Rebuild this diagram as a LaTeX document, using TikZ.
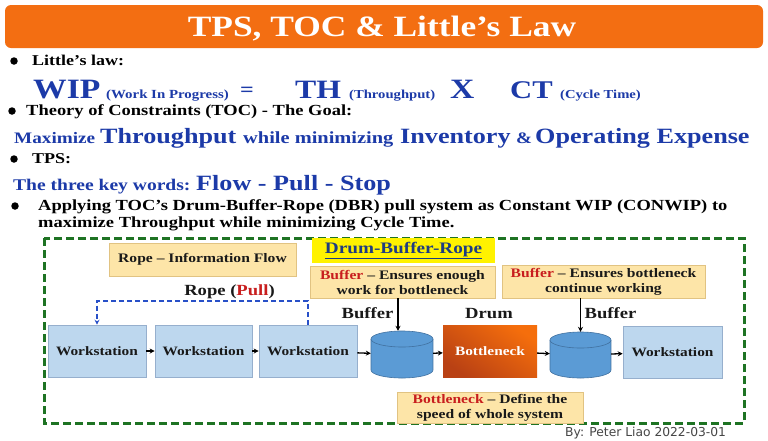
\documentclass[tikz,border=0pt]{standalone}
\usepackage{fontspec}
\setmainfont{Liberation Serif}[FakeStretch=1.2]
\newfontfamily\byfont{DejaVu Sans}
\usetikzlibrary{arrows.meta}
\definecolor{titleorange}{RGB}{243,110,18}
\definecolor{txtblue}{RGB}{28,58,168}
\definecolor{dbrblue}{RGB}{30,60,130}
\definecolor{frgreen}{RGB}{30,115,35}
\definecolor{tanfill}{RGB}{253,229,168}
\definecolor{tandraw}{RGB}{225,195,130}
\definecolor{wsfill}{RGB}{189,215,238}
\definecolor{wsdraw}{RGB}{150,175,205}
\definecolor{cylfill}{RGB}{91,155,213}
\definecolor{cyldraw}{RGB}{65,113,160}
\definecolor{bnlight}{RGB}{245,110,12}
\definecolor{bndark}{RGB}{185,65,20}
\definecolor{kwred}{RGB}{200,30,30}
\definecolor{ropeblue}{RGB}{40,80,200}
\definecolor{bygray}{RGB}{70,70,70}
\definecolor{txtdark}{RGB}{25,25,25}
\newcommand{\fsz}[1]{\fontsize{#1}{#1}\selectfont}
\begin{document}
\begin{tikzpicture}[x=1pt,y=-1pt,
  txt/.style={anchor=base west,inner sep=0pt,font=\bfseries},
  bluetxt/.style={txt,text=txtblue},
  note/.style={draw=tandraw,fill=tanfill,line width=0.6pt,inner sep=0pt,align=center,
    font=\bfseries\fontsize{13}{15}\selectfont,text=txtdark},
  wsbox/.style={draw=wsdraw,fill=wsfill,line width=0.6pt,minimum width=98pt,minimum height=52pt,
    inner sep=0pt,font=\bfseries\fontsize{12.8}{15}\selectfont,text=txtdark},
  cylbox/.style={inner sep=0pt},
  lbl/.style={anchor=base,inner sep=0pt,font=\bfseries\fontsize{15.5}{18}\selectfont,text=txtdark},
  conn/.style={-{Stealth[length=5pt,width=5pt]},line width=1.3pt,black},
  rope/.style={-{Stealth[length=5pt,width=5pt]},line width=1.7pt,ropeblue,dash pattern=on 5pt off 3pt},
  bullet/.style={circle,fill=black,inner sep=0pt,minimum size=7.5pt}]
\useasboundingbox (0,0) rectangle (768,440);
\fill[white] (0,0) rectangle (768,440);

% title
\fill[titleorange,rounded corners=6pt] (5,5) rectangle (763,48);
\node[anchor=base,inner sep=0pt,text=white,font=\bfseries\fsz{29.5}] (title) at (382,36) {TPS, TOC \& Little’s Law};

% Little's law
\node[bullet] (b1) at (14,61) {};
\node[txt,font=\bfseries\fsz{15}] (l1) at (32,65) {Little’s law:};
\node[bluetxt,font=\bfseries\fsz{28}] (wip) at (33,98) {WIP};
\node[bluetxt,font=\bfseries\fsz{12.4}] (wipd) at (106,98) {(Work In Progress)};
\node[bluetxt,font=\bfseries\fsz{20}] (eq) at (240,96) {=};
\node[bluetxt,font=\bfseries\fsz{26.5}] (th) at (295,98) {TH};
\node[bluetxt,font=\bfseries\fsz{12.2}] (thd) at (349,98) {(Throughput)};
\node[bluetxt,font=\bfseries\fsz{28}] (xx) at (450,98) {X};
\node[bluetxt,font=\bfseries\fsz{25.5}] (ct) at (510,98) {CT};
\node[bluetxt,font=\bfseries\fsz{12.2}] (ctd) at (560,98) {(Cycle Time)};

% TOC
\node[bullet] (b2) at (12,111) {};
\node[txt,font=\bfseries\fsz{15.4}] (l2) at (26,115) {Theory of Constraints (TOC) - The Goal:};
\node[bluetxt,font=\bfseries\fsz{16}] (m1) at (14,143) {Maximize};
\node[bluetxt,font=\bfseries\fsz{21.8}] (m2) at (100,143) {Throughput};
\node[bluetxt,font=\bfseries\fsz{17}] (m3) at (243,143) {while minimizing};
\node[bluetxt,font=\bfseries\fsz{21.8}] (m4) at (400,143) {Inventory};
\node[bluetxt,font=\bfseries\fsz{16}] (m5) at (516,143) {\&};
\node[bluetxt,font=\bfseries\fsz{21.8}] (m6) at (535,143) {Operating Expense};

% TPS
\node[bullet] (b3) at (14,159) {};
\node[txt,font=\bfseries\fsz{15}] (l3) at (32,163) {TPS:};
\node[bluetxt,font=\bfseries\fsz{16.3}] (k1) at (13,190) {The three key words:};
\node[bluetxt,font=\bfseries\fsz{21.8}] (k2) at (196,190) {Flow - Pull - Stop};

% DBR bullet
\node[bullet] (b4) at (15,206) {};
\node[txt,font=\bfseries\fsz{15.4}] (l4) at (38,210) {Applying TOC's Drum-Buffer-Rope (DBR) pull system as Constant WIP (CONWIP) to};
\node[txt,font=\bfseries\fsz{15.4}] (l5) at (38,227) {maximize Throughput while minimizing Cycle Time.};

% frame
\draw[frgreen,line width=3pt,dash pattern=on 8pt off 4pt] (44,238) rectangle (744,423);

% notes
\node[note,minimum width=187pt,minimum height=33pt] (ropenote) at (202.5,259.5) {Rope -- Information Flow};
\node[inner sep=0pt,fill=yellow,minimum width=183pt,minimum height=25pt,
  font=\bfseries\fsz{16},text=dbrblue] (dbr) at (403.5,250.5) {\underline{Drum-Buffer-Rope}};
\node[note,minimum width=185pt,minimum height=32pt] (buf1) at (402.5,282) {{\color{kwred}Buffer} -- Ensures enough\\work for bottleneck};
\node[note,minimum width=203pt,minimum height=33pt] (buf2) at (603.5,281.5) {{\color{kwred}Buffer} -- Ensures bottleneck\\continue working};

% labels
\node[lbl] (ropelbl) at (229.5,295) {Rope ({\color{kwred}Pull})};
\node[lbl] (buflbl1) at (367.5,318) {Buffer};
\node[lbl] (drumlbl) at (489,318) {Drum};
\node[lbl] (buflbl2) at (610.5,318) {Buffer};

% workstations
\node[wsbox] (ws1) at (97,351) {Workstation};
\node[wsbox,minimum width=97pt] (ws2) at (203.5,351) {Workstation};
\node[wsbox] (ws3) at (308,351) {Workstation};
\node[wsbox,minimum width=99pt] (ws4) at (672.5,352) {Workstation};

% bottleneck
\node[minimum width=94pt,minimum height=52pt,inner sep=0pt,
  top color=bnlight,bottom color=bndark,shading angle=-35,
  font=\bfseries\fsz{12.8},text=white] (bn) at (490,351) {Bottleneck};

% cylinders
\foreach \cx/\t/\b/\rx in {402/331/378/31, 580.5/332/378/30.5}{
  \fill[cylfill] (\cx-\rx,\t+8) rectangle (\cx+\rx,\b-8);
  \fill[cylfill] (\cx,\b-8) ellipse [x radius=\rx, y radius=8];
  \draw[cyldraw,line width=0.6pt] (\cx-\rx,\t+8) -- (\cx-\rx,\b-8)
     arc[start angle=180,end angle=0,x radius=\rx,y radius=8] -- (\cx+\rx,\t+8);
  \draw[cyldraw,line width=0.6pt,fill=cylfill] (\cx,\t+8) ellipse [x radius=\rx, y radius=8];
}
\node[cylbox,minimum width=62pt,minimum height=47pt] (c1) at (402,354.5) {};
\node[cylbox,minimum width=61pt,minimum height=46pt] (c2) at (580.5,355) {};

% bottleneck note
\node[note,minimum width=186pt,minimum height=31pt] (bnnote) at (490,407.5) {{\color{kwred}Bottleneck} -- Define the\\speed of whole system};

% connectors
\draw[conn] (ws1) -- (ws2);
\draw[conn] (ws2) -- (ws3);
\draw[conn] (ws3) -- (c1);
\draw[conn] (c1) -- (bn);
\draw[conn] (bn) -- (c2);
\draw[conn] (c2) -- (ws4);
\draw[conn] (buf1.south -| c1.north) ++(-4,0) coordinate (a1) -- (a1 |- c1.north);
\draw[conn] (buf2.south -| c2.north) -- (c2.north);
\draw[rope] (ws3.north) -- ++(0,-24) -| (ws1.north);

% author
\node[anchor=base west,inner sep=0pt,font=\byfont\fsz{12.3},text=bygray] (by) at (565,436) {By: Peter Liao 2022-03-01};
\end{tikzpicture}
\end{document}
